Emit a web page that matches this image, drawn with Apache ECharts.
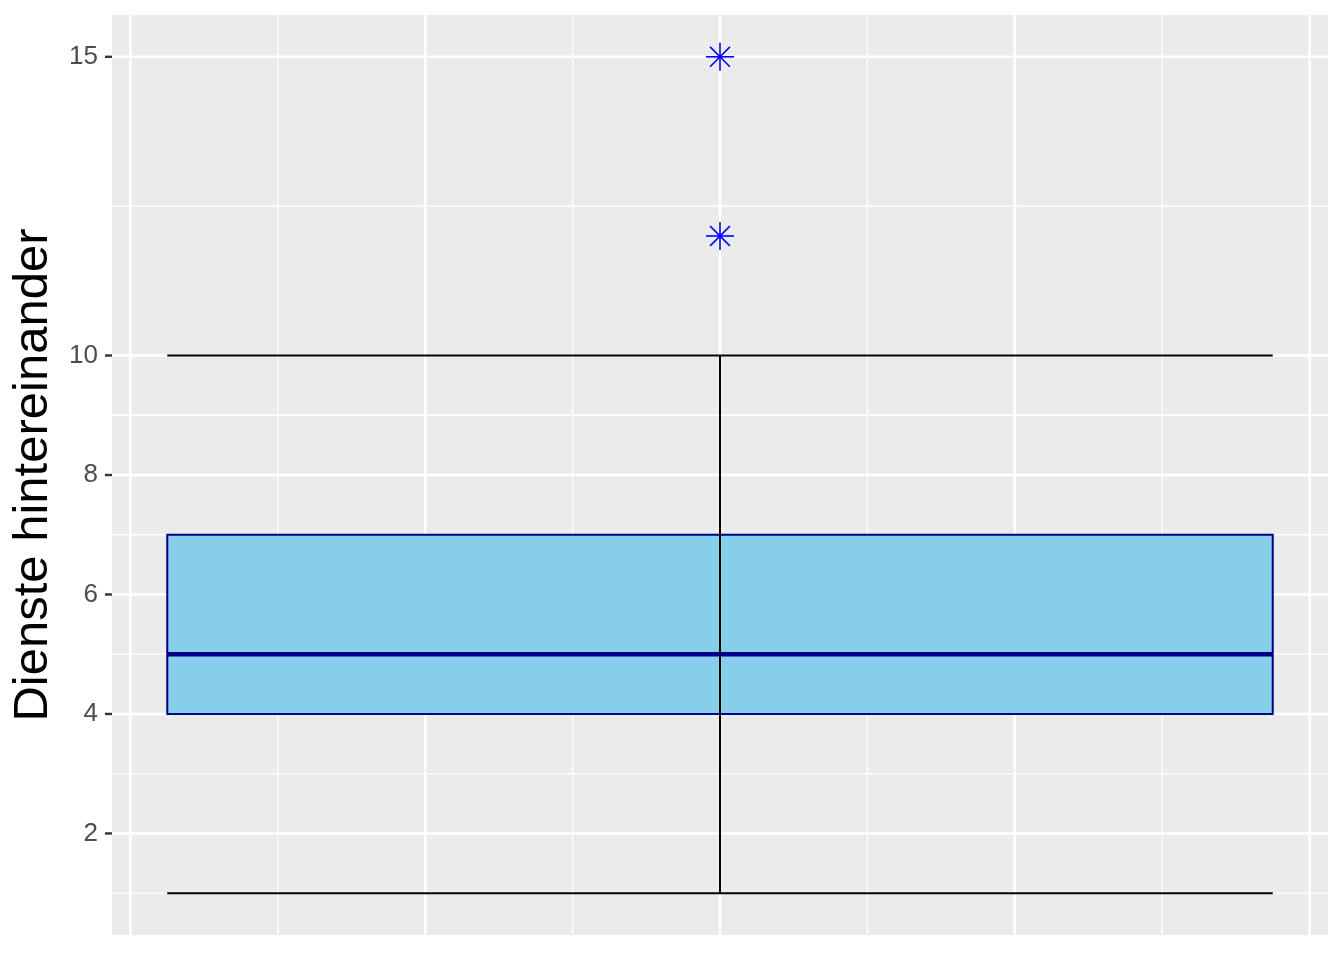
<!DOCTYPE html>
<html>
<head>
<meta charset="utf-8">
<script src="https://cdn.jsdelivr.net/npm/echarts@6/dist/echarts.min.js"></script>
<style>
html,body{margin:0;padding:0;background:#fff;}
#chart{width:1344px;height:960px;}
</style>
</head>
<body>
<div id="chart"></div>
<script>
// ---- data ----
const boxStats = [1, 4, 5, 7, 10];      // lower whisker, Q1, median, Q3, upper whisker
const outliers = [12, 15];
const yTicks = [2, 4, 6, 8, 10, 15];
const yMinor = [1, 3, 5, 7, 9, 12.5];
const xMajor = [-0.4, -0.2, 0, 0.2, 0.4];
const xMinor = [-0.3, -0.1, 0.1, 0.3];
const boxWidth = 0.75;
const yTitle = 'Dienste hintereinander';

const xMin = -0.4125, xMax = 0.4125;
const yMin = 0.3, yMax = 15.7;

const chart = echarts.init(document.getElementById('chart'));

const hGrid = yMinor.map(v => [v, 0]).concat(yTicks.map(v => [v, 1]));
const vGrid = xMinor.map(v => [v, 0]).concat(xMajor.map(v => [v, 1]));

const option = {
  animation: false,
  grid: {left: 112, right: 16, top: 15, bottom: 25, show: true, backgroundColor: '#EBEBEB', borderWidth: 0},
  xAxis: {
    type: 'value', min: xMin, max: xMax,
    axisLine: {show: false}, axisTick: {show: false}, axisLabel: {show: false}, splitLine: {show: false}
  },
  yAxis: {
    type: 'value', min: yMin, max: yMax,
    name: yTitle, nameLocation: 'middle', nameRotate: 90, nameGap: 52,
    nameTextStyle: {fontSize: 49, color: '#000', fontFamily: 'Liberation Sans, Arial, sans-serif'},
    axisLine: {show: false},
    axisTick: {show: false},
    axisLabel: {show: true, customValues: yTicks, margin: 14, fontSize: 26, color: '#4D4D4D',
      padding: [4, 0, 0, 0], fontFamily: 'Liberation Sans, Arial, sans-serif'},
    splitLine: {show: false}
  },
  series: [
    {
      type: 'custom', silent: true, z: 1,
      data: hGrid,
      renderItem: function (params, api) {
        const cs = params.coordSys;
        const y = api.coord([0, api.value(0)])[1];
        const major = api.value(1);
        const children = [{type: 'line', shape: {x1: cs.x, y1: y, x2: cs.x + cs.width, y2: y},
          style: {stroke: '#FFFFFF', lineWidth: major ? 2.6 : 1.3}}];
        if (major) {
          children.push({type: 'line', shape: {x1: cs.x - 7, y1: y, x2: cs.x, y2: y},
            style: {stroke: '#333333', lineWidth: 2.4}});
        }
        return {type: 'group', children: children};
      }
    },
    {
      type: 'custom', silent: true, z: 1,
      data: vGrid,
      renderItem: function (params, api) {
        const cs = params.coordSys;
        const x = api.coord([api.value(0), yMin])[0];
        return {type: 'line', shape: {x1: x, y1: cs.y, x2: x, y2: cs.y + cs.height},
          style: {stroke: '#FFFFFF', lineWidth: api.value(1) ? 2.6 : 1.3}};
      }
    },
    {
      type: 'custom', silent: true, z: 2,
      data: [[0].concat(boxStats)],
      renderItem: function (params, api) {
        const x = api.value(0);
        const lo = api.coord([x - boxWidth / 2, api.value(1)]);
        const hi = api.coord([x + boxWidth / 2, api.value(5)]);
        const q1 = api.coord([x, api.value(2)])[1];
        const med = api.coord([x, api.value(3)])[1];
        const q3 = api.coord([x, api.value(4)])[1];
        const cx = api.coord([x, 0])[0];
        const left = lo[0], right = hi[0];
        return {type: 'group', children: [
          {type: 'rect', shape: {x: left, y: q3, width: right - left, height: q1 - q3},
            style: {fill: '#87CEEB', stroke: '#00008B', lineWidth: 2}},
          {type: 'line', shape: {x1: left, y1: med, x2: right, y2: med},
            style: {stroke: '#00008B', lineWidth: 4.5}},
          {type: 'line', shape: {x1: cx, y1: lo[1], x2: cx, y2: hi[1]},
            style: {stroke: '#000000', lineWidth: 2}},
          {type: 'line', shape: {x1: left, y1: lo[1], x2: right, y2: lo[1]},
            style: {stroke: '#000000', lineWidth: 2}},
          {type: 'line', shape: {x1: left, y1: hi[1], x2: right, y2: hi[1]},
            style: {stroke: '#000000', lineWidth: 2}}
        ]};
      }
    },
    {
      type: 'custom', silent: true, z: 3,
      data: outliers.map(v => [0, v]),
      renderItem: function (params, api) {
        const p = api.coord([api.value(0), api.value(1)]);
        const r = 14, d = r / Math.SQRT2;
        const st = {stroke: '#0000FF', lineWidth: 1.6};
        return {type: 'group', children: [
          {type: 'line', shape: {x1: p[0], y1: p[1] - r, x2: p[0], y2: p[1] + r}, style: st},
          {type: 'line', shape: {x1: p[0] - r, y1: p[1], x2: p[0] + r, y2: p[1]}, style: st},
          {type: 'line', shape: {x1: p[0] - d, y1: p[1] - d, x2: p[0] + d, y2: p[1] + d}, style: st},
          {type: 'line', shape: {x1: p[0] - d, y1: p[1] + d, x2: p[0] + d, y2: p[1] - d}, style: st}
        ]};
      }
    }
  ]
};
chart.setOption(option);
</script>
</body>
</html>
